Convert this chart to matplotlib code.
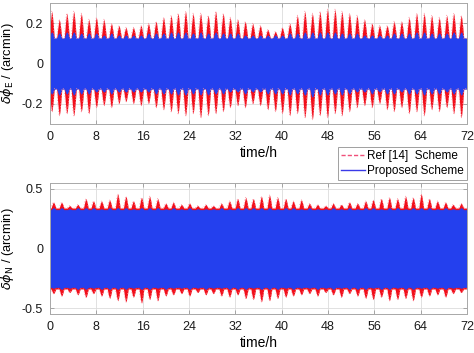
import numpy as np
import matplotlib
matplotlib.use("Agg")
from matplotlib import pyplot as plt
from matplotlib.lines import Line2D

plt.rcParams['font.family'] = ['Liberation Sans', 'DejaVu Sans']
plt.rcParams['axes.unicode_minus'] = False
plt.rcParams['mathtext.fontset'] = 'dejavusans'

# ---- data (peak envelopes of the dense error signals) ----
# top panel: east misalignment error, arcmin
t_top = [0.3, 1.6, 2.9, 4.1, 5.4, 6.7, 8.0, 9.3,
         10.6, 11.9, 13.1, 14.4, 15.7, 17.0, 18.3, 19.6,
         20.9, 22.1, 23.4, 24.7, 26.0, 27.3, 28.6, 29.9,
         31.1, 32.4, 33.7, 35.0, 36.3, 37.6, 38.9, 40.1,
         41.4, 42.7, 44.0, 45.3, 46.6, 47.9, 49.2, 50.4,
         51.7, 53.0, 54.3, 55.6, 56.9, 58.2, 59.4, 60.7,
         62.0, 63.3, 64.6, 65.9, 67.2, 68.5, 69.7, 71.0]
ref_top_hi = [0.26, 0.22, 0.25, 0.26, 0.25, 0.22, 0.23, 0.22,
              0.20, 0.19, 0.18, 0.18, 0.19, 0.20, 0.21, 0.23,
              0.24, 0.25, 0.26, 0.25, 0.25, 0.24, 0.26, 0.25,
              0.23, 0.22, 0.21, 0.20, 0.19, 0.17, 0.16, 0.18,
              0.20, 0.24, 0.26, 0.25, 0.26, 0.27, 0.27, 0.26,
              0.25, 0.24, 0.22, 0.20, 0.19, 0.19, 0.21, 0.21,
              0.23, 0.25, 0.25, 0.24, 0.23, 0.24, 0.25, 0.24]
ref_top_lo = [-0.24, -0.26, -0.25, -0.26, -0.24, -0.25, -0.22, -0.21,
              -0.22, -0.20, -0.19, -0.20, -0.21, -0.20, -0.22, -0.23,
              -0.24, -0.25, -0.26, -0.25, -0.27, -0.26, -0.25, -0.24,
              -0.22, -0.21, -0.22, -0.20, -0.21, -0.23, -0.24, -0.25,
              -0.26, -0.25, -0.27, -0.28, -0.26, -0.27, -0.25, -0.26,
              -0.24, -0.22, -0.21, -0.22, -0.20, -0.23, -0.24, -0.22,
              -0.25, -0.24, -0.26, -0.23, -0.24, -0.22, -0.25, -0.27]
prop_top_hi = [0.155, 0.15, 0.155, 0.155, 0.15, 0.15, 0.15, 0.14,
               0.15, 0.14, 0.14, 0.14, 0.14, 0.15, 0.15, 0.15,
               0.155, 0.155, 0.155, 0.15, 0.155, 0.15, 0.155, 0.15,
               0.15, 0.15, 0.14, 0.14, 0.14, 0.14, 0.14, 0.14,
               0.15, 0.15, 0.155, 0.155, 0.155, 0.155, 0.155, 0.15,
               0.15, 0.15, 0.14, 0.14, 0.14, 0.14, 0.15, 0.15,
               0.15, 0.155, 0.155, 0.15, 0.15, 0.15, 0.155, 0.155]
prop_top_lo = [-0.15, -0.155, -0.15, -0.155, -0.15, -0.15, -0.14, -0.14,
               -0.15, -0.14, -0.14, -0.14, -0.14, -0.14, -0.15, -0.15,
               -0.15, -0.155, -0.155, -0.15, -0.155, -0.155, -0.15, -0.15,
               -0.14, -0.14, -0.15, -0.14, -0.14, -0.15, -0.15, -0.15,
               -0.155, -0.15, -0.155, -0.165, -0.155, -0.155, -0.15, -0.155,
               -0.15, -0.14, -0.14, -0.15, -0.14, -0.15, -0.15, -0.14,
               -0.15, -0.15, -0.155, -0.15, -0.15, -0.14, -0.15, -0.155]
ref_top_base = 0.125
prop_top_base = 0.125

# bottom panel: north misalignment error, arcmin
t_bot = [0.6, 2.0, 3.4, 4.8, 6.2, 7.5, 8.9, 10.3,
         11.7, 13.1, 14.4, 15.8, 17.2, 18.6, 20.0, 21.3,
         22.7, 24.1, 25.5, 26.9, 28.2, 29.6, 31.0, 32.4,
         33.8, 35.1, 36.5, 37.9, 39.3, 40.7, 42.0, 43.4,
         44.8, 46.2, 47.6, 48.9, 50.3, 51.7, 53.1, 54.5,
         55.8, 57.2, 58.6, 60.0, 61.4, 62.7, 64.1, 65.5,
         66.9, 68.3, 69.6, 71.0]
ref_bot_hi = [0.39, 0.39, 0.36, 0.37, 0.42, 0.40, 0.40, 0.41,
              0.46, 0.44, 0.40, 0.43, 0.44, 0.42, 0.38, 0.39,
              0.37, 0.38, 0.36, 0.37, 0.36, 0.38, 0.40, 0.42,
              0.43, 0.42, 0.44, 0.45, 0.43, 0.42, 0.40, 0.41,
              0.38, 0.37, 0.36, 0.38, 0.37, 0.39, 0.38, 0.40,
              0.41, 0.42, 0.43, 0.42, 0.44, 0.43, 0.46, 0.42,
              0.40, 0.39, 0.37, 0.38]
ref_bot_lo = [-0.38, -0.40, -0.37, -0.39, -0.41, -0.38, -0.40, -0.42,
              -0.44, -0.45, -0.41, -0.46, -0.43, -0.44, -0.40, -0.39,
              -0.38, -0.40, -0.37, -0.39, -0.38, -0.40, -0.41, -0.39,
              -0.42, -0.43, -0.45, -0.44, -0.42, -0.41, -0.40, -0.39,
              -0.38, -0.40, -0.37, -0.39, -0.41, -0.38, -0.40, -0.42,
              -0.43, -0.41, -0.44, -0.43, -0.42, -0.44, -0.41, -0.40,
              -0.39, -0.41, -0.38, -0.37]
prop_bot_hi = [0.34, 0.34, 0.33, 0.34, 0.34, 0.34, 0.33, 0.34,
               0.34, 0.34, 0.33, 0.34, 0.34, 0.34, 0.33, 0.34,
               0.33, 0.34, 0.33, 0.33, 0.33, 0.34, 0.33, 0.34,
               0.34, 0.34, 0.34, 0.34, 0.33, 0.34, 0.34, 0.33,
               0.34, 0.33, 0.33, 0.34, 0.33, 0.34, 0.33, 0.34,
               0.34, 0.33, 0.34, 0.34, 0.33, 0.34, 0.34, 0.34,
               0.33, 0.34, 0.33, 0.34]
prop_bot_lo = [-0.33, -0.34, -0.33, -0.34, -0.34, -0.33, -0.34, -0.34,
               -0.34, -0.34, -0.33, -0.34, -0.34, -0.33, -0.34, -0.33,
               -0.33, -0.34, -0.33, -0.34, -0.33, -0.33, -0.34, -0.34,
               -0.34, -0.33, -0.34, -0.34, -0.34, -0.33, -0.34, -0.33,
               -0.33, -0.34, -0.33, -0.34, -0.33, -0.34, -0.34, -0.34,
               -0.33, -0.34, -0.34, -0.33, -0.34, -0.34, -0.33, -0.34,
               -0.33, -0.34, -0.33, -0.33]
ref_bot_base = 0.34
prop_bot_base = 0.325

x_ticks = [0, 8, 16, 24, 32, 40, 48, 56, 64, 72]
top_yticks = [-0.2, 0, 0.2]
bot_yticks = [-0.5, 0, 0.5]

RED = '#f10f1a'
PINK = '#ff8fa0'
BLUE = '#2440ee'

# spike profile (shape of each burst, relative offsets / heights)
PROF_X = [-1.0, -0.6, -0.25, 0.0, 0.25, 0.6, 1.0]
PROF_Y = [0.0, 0.5, 0.85, 1.0, 0.85, 0.5, 0.0]


def envelope(times, peaks, base, w):
    xs, ys = [0], [base]
    for t, p in zip(times, peaks):
        for dx, f in zip(PROF_X, PROF_Y):
            xs.append(t + dx * w)
            ys.append(base + f * (p - base))
    xs.append(72)
    ys.append(base)
    return np.array(xs), np.array(ys)


def draw_panel(ax, times, r_hi, r_lo, r_base, b_hi, b_lo, b_base, w_r, w_b):
    x, yh = envelope(times, r_hi, r_base, w_r)
    _, yl = envelope(times, r_lo, -r_base, w_r)
    ax.fill_between(x, yl, yh, color=RED, lw=0)
    ax.plot(x, yh, color=PINK, lw=0.5, dashes=(1.5, 2.5))
    ax.plot(x, yl, color=PINK, lw=0.5, dashes=(1.5, 2.5))
    x, yh = envelope(times, b_hi, b_base, w_b)
    _, yl = envelope(times, b_lo, -b_base, w_b)
    ax.fill_between(x, yl, yh, color=BLUE, lw=0.4, edgecolor=BLUE)
    ax.set_xlim(0, 72)
    ax.set_xticks(x_ticks)
    ax.set_xlabel('time/h', fontsize=10, labelpad=2)
    ax.grid(True, color='#dcdcdc', lw=0.6)
    ax.set_axisbelow(True)
    ax.tick_params(direction='in', length=3, width=0.6, color='#9a9a9a',
                   labelsize=9, pad=5, top=True, right=True, labelcolor='#1a1a1a')
    for s in ax.spines.values():
        s.set_color('#a8a8a8')
        s.set_linewidth(0.7)


fig = plt.figure(figsize=(4.74, 3.53), dpi=100)
ax1 = fig.add_axes([0.1055, 0.6487, 0.8797, 0.3428])
ax2 = fig.add_axes([0.1055, 0.1105, 0.8797, 0.3711])

draw_panel(ax1, t_top, ref_top_hi, ref_top_lo, ref_top_base,
           prop_top_hi, prop_top_lo, prop_top_base, 0.45, 0.4)
ax1.set_ylim(-0.3, 0.3)
ax1.set_yticks(top_yticks)
ax1.set_yticklabels(['-0.2', '0', '0.2'])
ax1.set_ylabel(r'$\delta\phi_{\mathrm{E}}$ / (arcmin)', fontsize=9.3)
ax1.yaxis.set_label_coords(-0.082, 0.5)

draw_panel(ax2, t_bot, ref_bot_hi, ref_bot_lo, ref_bot_base,
           prop_bot_hi, prop_bot_lo, prop_bot_base, 0.42, 0.4)
ax2.set_ylim(-0.55, 0.55)
ax2.set_yticks(bot_yticks)
ax2.set_yticklabels(['-0.5', '0', '0.5'])
ax2.set_ylabel(r'$\delta\phi_{\mathrm{N}}$ / (arcmin)', fontsize=9.3)
ax2.yaxis.set_label_coords(-0.082, 0.5)

handles = [Line2D([], [], color='#f0507a', ls='--', lw=1.0, dashes=(3, 1.5)),
           Line2D([], [], color='#3a3ae8', ls='-', lw=1.0)]
leg = fig.legend(handles, ['Ref [14]  Scheme', 'Proposed Scheme'],
                 loc='upper right', bbox_to_anchor=(0.985, 0.584),
                 fontsize=8.5, frameon=True, fancybox=False, framealpha=1,
                 edgecolor='#a0a0a0', handlelength=2.0, handletextpad=0.15,
                 borderpad=0.3, labelspacing=0.2, borderaxespad=0)
leg.get_frame().set_linewidth(0.7)

fig.savefig('out.png', dpi=100)
